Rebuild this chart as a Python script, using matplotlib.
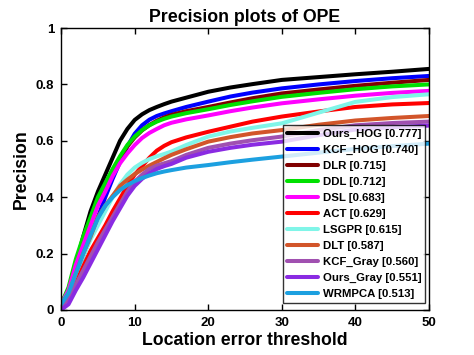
import numpy as np
import matplotlib
matplotlib.use("Agg")
import matplotlib.pyplot as plt

plt.rcParams['font.family'] = ['Liberation Sans', 'DejaVu Sans']
plt.rcParams['font.weight'] = 'bold'

# location error thresholds (pixels)
thresholds = [0, 1, 2, 3, 4, 5, 6, 7, 8, 9, 10, 11, 12, 13, 14, 15, 17, 20, 23, 26, 30, 35, 40, 45, 50]

# precision values
ours_hog = [0.02, 0.07, 0.16, 0.26, 0.35, 0.42, 0.48, 0.54, 0.60, 0.642, 0.674, 0.694, 0.709, 0.72, 0.73, 0.739,
            0.753, 0.774, 0.789, 0.801, 0.816, 0.826, 0.836, 0.845, 0.855]
kcf_hog = [0.02, 0.05, 0.12, 0.19, 0.26, 0.33, 0.40, 0.465, 0.525, 0.58, 0.625, 0.655, 0.675, 0.688, 0.697, 0.705,
           0.72, 0.739, 0.757, 0.771, 0.786, 0.80, 0.812, 0.822, 0.83]
dlr = [0.02, 0.07, 0.17, 0.25, 0.32, 0.39, 0.44, 0.495, 0.54, 0.58, 0.612, 0.637, 0.656, 0.671, 0.683, 0.692,
       0.705, 0.72, 0.736, 0.751, 0.768, 0.782, 0.795, 0.806, 0.816]
ddl = [0.02, 0.08, 0.18, 0.26, 0.33, 0.40, 0.45, 0.50, 0.545, 0.585, 0.615, 0.638, 0.655, 0.668, 0.678, 0.686,
       0.698, 0.712, 0.727, 0.74, 0.756, 0.77, 0.783, 0.793, 0.80]
dsl = [0.02, 0.07, 0.16, 0.23, 0.30, 0.37, 0.42, 0.475, 0.52, 0.555, 0.585, 0.61, 0.628, 0.642, 0.655, 0.664,
       0.676, 0.69, 0.705, 0.718, 0.733, 0.747, 0.76, 0.77, 0.777]
act = [0.02, 0.04, 0.10, 0.155, 0.21, 0.255, 0.30, 0.35, 0.395, 0.44, 0.48, 0.51, 0.54, 0.565, 0.582, 0.595,
       0.612, 0.632, 0.65, 0.668, 0.686, 0.704, 0.72, 0.729, 0.734]
lsgpr = [0.02, 0.06, 0.13, 0.19, 0.25, 0.30, 0.35, 0.40, 0.445, 0.48, 0.505, 0.522, 0.535, 0.545, 0.553, 0.562,
         0.585, 0.615, 0.633, 0.646, 0.662, 0.70, 0.738, 0.755, 0.765]
dlt = [0.02, 0.06, 0.13, 0.20, 0.26, 0.33, 0.37, 0.405, 0.44, 0.462, 0.482, 0.498, 0.512, 0.525, 0.538, 0.55,
       0.57, 0.597, 0.613, 0.626, 0.638, 0.657, 0.672, 0.681, 0.688]
kcf_gray = [0.01, 0.04, 0.09, 0.14, 0.19, 0.24, 0.285, 0.33, 0.375, 0.42, 0.455, 0.48, 0.50, 0.512, 0.52, 0.528,
            0.55, 0.575, 0.59, 0.602, 0.615, 0.638, 0.655, 0.663, 0.668]
ours_gray = [0.0, 0.02, 0.07, 0.115, 0.165, 0.215, 0.265, 0.315, 0.36, 0.405, 0.44, 0.465, 0.485, 0.50, 0.51, 0.518,
             0.54, 0.561, 0.575, 0.586, 0.597, 0.62, 0.64, 0.648, 0.654]
wrmpca = [0.02, 0.06, 0.13, 0.20, 0.265, 0.325, 0.37, 0.40, 0.425, 0.443, 0.457, 0.468, 0.477, 0.485, 0.491, 0.496,
          0.505, 0.514, 0.524, 0.533, 0.544, 0.558, 0.571, 0.581, 0.59]

names = ['Ours_HOG', 'KCF_HOG', 'DLR', 'DDL', 'DSL', 'ACT', 'LSGPR', 'DLT',
         'KCF_Gray', 'Ours_Gray', 'WRMPCA']
scores = [0.777, 0.740, 0.715, 0.712, 0.683, 0.629, 0.615, 0.587, 0.560, 0.551, 0.513]
curves = [ours_hog, kcf_hog, dlr, ddl, dsl, act, lsgpr, dlt, kcf_gray, ours_gray, wrmpca]
colors = ['#000000', '#0000ff', '#800000', '#00e000', '#ff00ff', '#ff0000',
          '#80f5e8', '#d2552a', '#a050b0', '#8a2be2', '#1ca0e0']

fig = plt.figure(figsize=(4.74, 3.55), dpi=100)
ax = fig.add_axes([0.129, 0.127, 0.776, 0.794])

for name, score, y, c in zip(names, scores, curves, colors):
    ax.plot(thresholds, y, color=c, linewidth=2.9, label='%s [%.3f]' % (name, score),
            solid_capstyle='round', solid_joinstyle='round')

ax.set_xlim(0, 50)
ax.set_ylim(0, 1)
ax.set_xticks([0, 10, 20, 30, 40, 50])
ax.set_yticks([0, 0.2, 0.4, 0.6, 0.8, 1])
ax.set_yticklabels(['0', '0.2', '0.4', '0.6', '0.8', '1'])
ax.tick_params(direction='in', top=True, right=True, length=4, width=1,
               labelsize=9.5, pad=5)
for lbl in ax.get_xticklabels() + ax.get_yticklabels():
    lbl.set_fontweight('bold')
for s in ax.spines.values():
    s.set_linewidth(1)

ax.set_title('Precision plots of OPE', fontsize=12.8, fontweight='bold', pad=4)
ax.set_xlabel('Location error threshold', fontsize=12.7, fontweight='bold', labelpad=2)
ax.set_ylabel('Precision', fontsize=12.7, fontweight='bold', labelpad=4)

leg = ax.legend(loc='lower right', bbox_to_anchor=(0.99, 0.025), borderaxespad=0,
                fontsize=8.2, frameon=True, fancybox=False, handlelength=2.7,
                handletextpad=0.4, labelspacing=0.52, borderpad=0.35)
leg.get_frame().set_edgecolor('black')
leg.get_frame().set_linewidth(1)
for t in leg.get_texts():
    t.set_fontweight('bold')

fig.savefig('out.png', dpi=100)
